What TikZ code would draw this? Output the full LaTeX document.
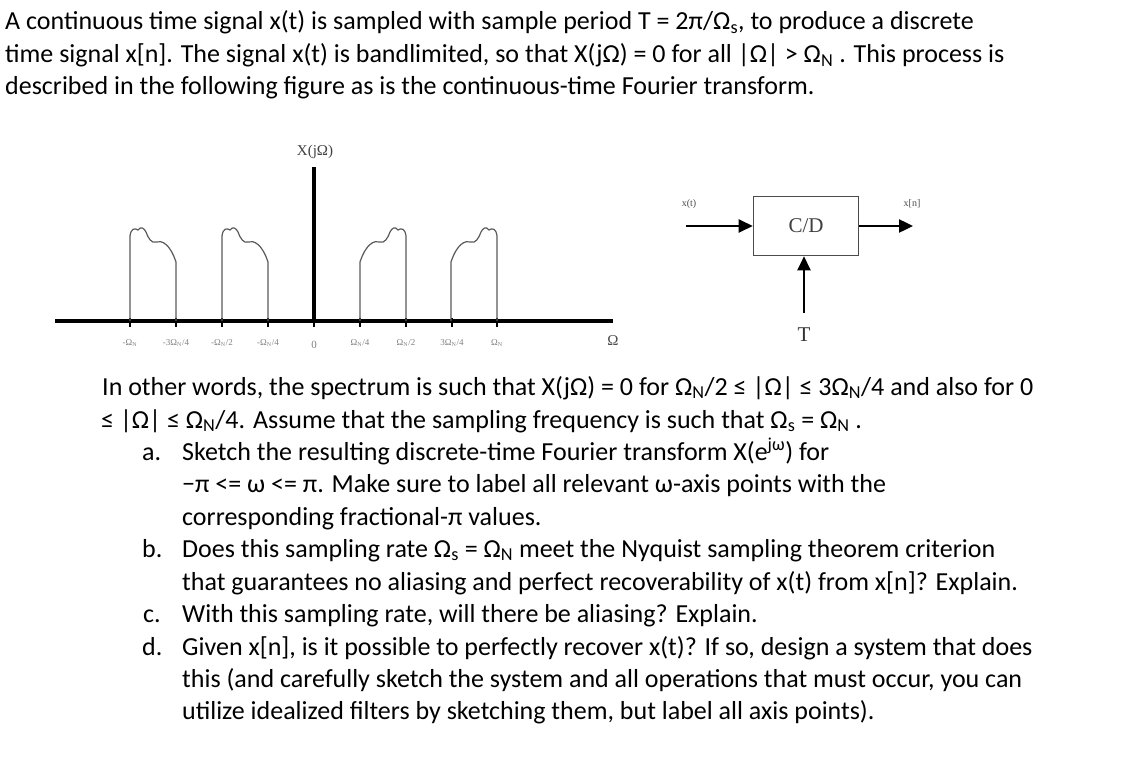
\documentclass[tikz,border=0pt]{standalone}
\usepackage{fontspec}
\setmainfont{Carlito}
\newfontfamily\figfont{Liberation Serif}
\usetikzlibrary{arrows.meta}
\begin{document}
\begin{tikzpicture}[x=1pt,y=-1pt,
  txt/.style={anchor=base west,inner sep=0pt,font=\fontsize{26}{30}\selectfont},
  tick/.style={font=\figfont\fontsize{9}{10}\selectfont,text=gray,inner sep=0pt},
  bump/.style={draw=black!65,line width=1.2pt},
  arr/.style={line width=2.4pt,-{Triangle[length=14pt,width=13pt]}}]
\useasboundingbox (0,0) rectangle (1148,762);
\newcommand{\sub}[1]{\textsubscript{#1}}
% text
\node[txt] (l1) at (5,30) {A continuous time signal x(t) is sampled with sample period T = 2π/Ω\sub{s}, to produce a discrete};
\node[txt] (l2) at (5,63) {time signal x[n]. The signal x(t) is bandlimited, so that X(jΩ) = 0 for all |Ω| > Ω\sub{N} . This process is};
\node[txt] (l3) at (5,95) {described in the following figure as is the continuous-time Fourier transform.};
\node[txt] (l4) at (102,395) {In other words, the spectrum is such that X(jΩ) = 0 for Ω\sub{N}/2 ≤ |Ω| ≤ 3Ω\sub{N}/4 and also for 0};
\node[txt] (l5) at (101,428) {≤ |Ω| ≤ Ω\sub{N}/4. Assume that the sampling frequency is such that Ω\sub{s} = Ω\sub{N} .};
\node[txt] (la) at (142,460) {a.};
\node[txt] (la1) at (182,460) {Sketch the resulting discrete-time Fourier transform X(e\textsuperscript{jω}) for};
\node[txt] (la2) at (182,492) {−π <= ω <= π. Make sure to label all relevant ω-axis points with the};
\node[txt] (la3) at (182,525) {corresponding fractional-π values.};
\node[txt] (lb) at (142,557) {b.};
\node[txt] (lb1) at (182,557) {Does this sampling rate Ω\sub{s} = Ω\sub{N} meet the Nyquist sampling theorem criterion};
\node[txt] (lb2) at (182,590) {that guarantees no aliasing and perfect recoverability of x(t) from x[n]? Explain.};
\node[txt] (lc) at (143,622) {c.};
\node[txt] (lc1) at (182,622) {With this sampling rate, will there be aliasing? Explain.};
\node[txt] (ld) at (142,655) {d.};
\node[txt] (ld1) at (182,655) {Given x[n], is it possible to perfectly recover x(t)? If so, design a system that does};
\node[txt] (ld2) at (182,687) {this (and carefully sketch the system and all operations that must occur, you can};
\node[txt] (ld3) at (182,719) {utilize idealized filters by sketching them, but label all axis points).};
% spectrum
\draw[line width=4pt] (55,321) -- (613,321);
\draw[line width=3.5pt] (314,321) -- (314,167);
\node[font=\figfont\fontsize{15}{17}\selectfont,text=black!75] (xl) at (315,152) {X(jΩ)};
\node[font=\figfont\fontsize{15}{17}\selectfont,text=black!70] (om) at (613,341) {Ω};
\foreach \x in {130,176,222,268,314,360,406,452,497} \draw[line width=2pt] (\x,318) -- (\x,327);
\foreach \x/\l in {130/{-Ω\textsubscript{N}},176/{-3Ω\textsubscript{N}/4},222/{-Ω\textsubscript{N}/2},268/{-Ω\textsubscript{N}/4},360/{Ω\textsubscript{N}/4},406/{Ω\textsubscript{N}/2},452/{3Ω\textsubscript{N}/4},497/{Ω\textsubscript{N}}}
  \node[tick] at (\x,343) {\l};
\node[font=\figfont\fontsize{11}{12}\selectfont,text=gray] (z) at (314,345) {0};
\foreach \x in {130,222} {
  \draw[bump] (\x,321) -- (\x,236) .. controls (\x+1,228) and (\x+5,228) .. (\x+8,230)
    .. controls (\x+11,226) and (\x+14,228) .. (\x+16,232)
    .. controls (\x+18,238) and (\x+22,244) .. (\x+26,242)
    .. controls (\x+32,240) and (\x+40,244) .. (\x+46,262) -- (\x+46,321);
}
\foreach \x in {406,497} {
  \draw[bump] (\x,321) -- (\x,236) .. controls (\x-1,228) and (\x-5,228) .. (\x-8,230)
    .. controls (\x-11,226) and (\x-14,228) .. (\x-16,232)
    .. controls (\x-18,238) and (\x-22,244) .. (\x-26,242)
    .. controls (\x-32,240) and (\x-40,244) .. (\x-46,262) -- (\x-46,321);
}
% block
\node[draw=black!70,line width=1.6pt,minimum width=105pt,minimum height=59pt,font=\figfont\fontsize{21}{23}\selectfont,text=black!75] (cd) at (806,226) {C/D};
\coordinate (in) at (686,226);
\coordinate (out) at (913,226);
\coordinate (tb) at (804,313);
\draw[arr] (in) -- (cd.west);
\draw[arr] (cd.east) -- (out);
\draw[arr] (tb) -- (cd.south -| tb);
\node[font=\figfont\fontsize{10}{11}\selectfont,text=black!70] (xt) at (689,204) {x(t)};
\node[font=\figfont\fontsize{10}{11}\selectfont,text=black!70] (xn) at (912,204) {x[n]};
\node[font=\figfont\fontsize{21}{23}\selectfont,text=black!80] (tl) at (804,335) {T};
\end{tikzpicture}
\end{document}
